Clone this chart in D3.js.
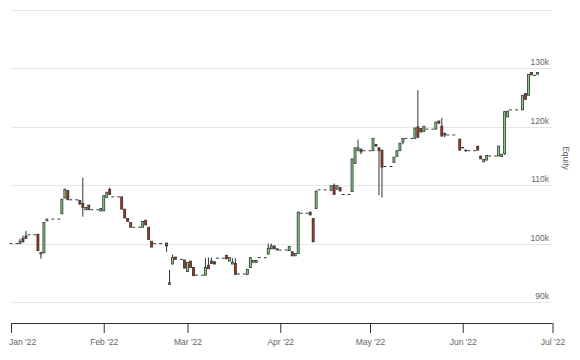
<!DOCTYPE html>
<html><head><meta charset="utf-8">
<script src="https://cdn.jsdelivr.net/npm/d3@7"></script>
<style>body{margin:0;background:#fff}svg{display:block}</style>
</head><body><svg id="chart" width="580" height="360"></svg>
<script>
// Daily equity candles (thousands), one entry per calendar day from startDate
const startDate = "2022-01-01";
const opens = [
 100.0,100.0,100.0,100.0,100.9,101.3,101.5,
 101.5,101.5,101.6,98.2,98.4,103.9,104.2,
 104.2,104.2,104.2,105.1,107.8,109.1,107.5,
 107.5,107.5,107.4,106.9,105.8,106.6,105.8,
 105.8,105.8,105.6,105.6,107.9,109.3,108.0,
 108.0,108.0,108.0,105.9,104.3,103.6,102.8,
 102.8,102.8,102.8,104.0,102.8,100.4,100.0,
 100.0,100.0,100.0,100.1,93.0,96.5,97.7,
 97.3,97.3,97.2,95.2,97.0,95.9,94.6,
 94.6,94.6,94.6,96.3,97.0,96.9,97.5,
 97.5,97.5,98.0,97.0,96.5,96.6,94.8,
 94.8,94.8,94.7,95.9,96.8,96.8,97.6,
 97.6,97.6,98.2,99.1,99.6,99.1,98.9,
 98.9,98.9,98.8,98.6,97.9,98.3,105.2,
 105.2,105.2,105.4,104.3,106.0,109.2,109.2,
 109.2,109.2,109.1,110.0,109.3,109.6,108.4,
 108.4,108.4,108.9,113.7,115.9,116.2,115.9,
 115.9,115.9,115.9,117.0,116.4,116.0,113.2,
 113.2,113.2,113.9,114.9,115.9,117.4,118.0,
 118.0,118.0,118.0,120.0,119.7,119.2,119.6,
 119.6,119.6,119.6,121.0,120.1,118.9,118.6,
 118.6,118.6,118.6,117.9,116.5,116.0,115.9,
 115.9,115.9,116.7,115.0,114.0,114.3,115.0,
 115.0,115.0,115.0,114.9,115.4,121.7,122.9,
 122.9,122.9,122.9,122.9,125.7,125.4,129.3,
 128.8,129.0];
const highs = [
 100.0,100.0,100.0,100.8,101.4,102.2,101.5,
 101.5,101.5,101.6,98.6,103.6,104.2,104.2,
 104.2,104.2,104.2,107.6,109.4,109.1,107.5,
 107.5,107.5,107.5,111.3,106.2,106.6,105.8,
 105.8,105.8,106.0,108.2,108.8,109.6,108.0,
 108.0,108.0,108.0,105.9,104.3,103.6,102.8,
 102.8,102.8,103.8,104.0,102.8,100.4,100.0,
 100.0,100.0,100.0,100.1,95.5,98.1,97.7,
 97.3,97.3,97.2,96.8,97.0,95.9,94.6,
 94.6,94.6,97.5,97.6,97.6,96.9,97.5,
 97.5,97.5,98.0,97.6,97.5,97.5,94.8,
 94.8,94.8,95.6,97.6,97.1,97.1,97.6,
 97.6,97.6,100.0,100.0,99.6,99.1,98.9,
 98.9,98.9,99.5,98.6,98.3,105.4,105.2,
 105.2,105.2,105.4,104.3,109.0,109.2,109.2,
 109.2,109.2,109.9,110.3,109.9,109.6,108.4,
 108.4,108.4,114.5,116.4,117.8,116.2,115.9,
 115.9,115.9,118.0,117.0,116.4,116.0,113.2,
 113.2,113.2,114.8,115.9,117.2,118.0,118.0,
 118.0,118.0,119.8,126.3,119.7,120.1,119.6,
 119.6,119.6,120.8,121.0,121.5,118.9,118.6,
 118.6,118.6,118.6,117.9,116.5,116.1,115.9,
 115.9,115.9,116.7,115.0,114.4,115.1,115.0,
 115.0,115.0,116.7,115.3,122.6,122.7,122.9,
 122.9,122.9,122.9,125.4,125.7,129.0,129.3,
 128.8,129.3];
const lows = [
 100.0,100.0,100.0,99.9,100.2,100.8,101.5,
 101.5,101.5,98.7,97.4,98.4,103.9,104.2,
 104.2,104.2,104.2,105.1,107.8,107.5,107.5,
 107.5,107.5,106.6,104.6,105.8,105.8,105.8,
 105.8,105.8,105.6,105.6,107.9,108.4,108.0,
 108.0,108.0,105.9,104.4,103.8,102.8,102.8,
 102.8,102.8,102.8,103.2,100.7,99.4,100.0,
 100.0,100.0,100.0,98.6,93.0,96.5,97.3,
 97.3,97.3,95.8,95.2,95.9,94.5,94.6,
 94.6,94.6,94.6,95.7,96.6,96.5,97.5,
 97.5,97.5,97.4,97.0,96.5,94.7,94.8,
 94.8,94.8,94.7,95.9,96.8,96.8,97.6,
 97.6,97.6,98.2,99.1,99.1,98.9,98.9,
 98.9,98.9,98.8,97.9,97.9,98.3,105.2,
 105.2,105.2,104.9,100.3,106.0,109.2,109.2,
 109.2,109.2,109.1,108.4,109.3,109.0,108.4,
 108.4,108.4,108.9,113.7,115.9,115.3,115.9,
 115.9,115.9,115.9,116.7,108.3,107.9,113.2,
 113.2,113.2,113.9,114.9,115.9,117.0,118.0,
 118.0,118.0,118.0,118.2,119.1,119.2,119.6,
 119.6,119.6,119.6,120.6,118.4,118.2,118.6,
 118.6,118.6,118.6,116.0,116.3,115.7,115.9,
 115.9,115.9,116.0,114.5,114.0,114.3,115.0,
 115.0,115.0,115.0,114.9,115.2,121.7,122.9,
 122.9,122.9,122.9,122.9,124.7,125.4,128.9,
 128.8,129.0];
const closes = [
 100.0,100.0,100.0,100.4,100.3,100.9,101.5,
 101.5,101.5,98.8,98.5,103.6,104.2,104.2,
 104.2,104.2,104.2,107.6,109.3,107.5,107.5,
 107.5,107.5,106.8,106.2,106.2,105.8,105.8,
 105.8,105.8,106.0,108.2,108.8,108.4,108.0,
 108.0,108.0,105.9,104.4,103.8,102.8,102.8,
 102.8,102.8,103.8,103.2,100.7,99.4,100.0,
 100.0,100.0,100.0,99.6,93.3,97.6,97.3,
 97.3,97.3,95.8,96.8,95.9,94.5,94.6,
 94.6,94.6,95.9,95.7,96.6,96.5,97.5,
 97.5,97.5,97.4,97.6,96.8,94.7,94.8,
 94.8,94.8,95.6,97.6,97.1,97.1,97.6,
 97.6,97.6,99.2,99.6,99.1,98.9,98.9,
 98.9,98.9,99.5,97.9,98.3,105.4,105.2,
 105.2,105.2,104.9,100.3,109.0,109.2,109.2,
 109.2,109.2,109.9,108.4,109.9,109.0,108.4,
 108.4,108.4,114.5,116.4,116.4,115.7,115.9,
 115.9,115.9,118.0,116.7,115.9,113.1,113.2,
 113.2,113.2,114.8,115.9,117.2,118.0,118.0,
 118.0,118.0,119.8,118.2,119.1,120.1,119.6,
 119.6,119.6,120.8,120.6,118.4,118.6,118.6,
 118.6,118.6,118.6,116.0,116.4,115.9,115.9,
 115.9,115.9,116.0,114.5,114.4,115.1,115.0,
 115.0,115.0,116.7,115.3,122.6,122.7,122.9,
 122.9,122.9,122.9,125.4,124.7,129.0,128.9,
 128.8,129.3];
// day indices where the reference shows no mark at all
const emptyDays = [1,7,13,15,21,28,35,42,49,51,56,63,70,77,84,91,98,104,106,112,119,126,133,140,147,149,154,161,168,170];

const xDomain = ["2022-01-01", "2022-07-01"];
const xTickDates = ["2022-01-01","2022-02-01","2022-03-01","2022-04-01","2022-05-01","2022-06-01","2022-07-01"];
const xTickLabels = ["Jan '22","Feb '22","Mar '22","Apr '22","May '22","Jun '22","Jul '22"];
const yDomain = [90, 140];
const yTicks = [90, 100, 110, 120, 130, 140];
const yTickLabels = ["90k", "100k", "110k", "120k", "130k", ""];
const yTitle = "Equity";

const parse = d3.utcParse("%Y-%m-%d");
const t0 = parse(startDate);
const emptySet = new Set(emptyDays);
const data = opens.map((o, i) => ({
  i, date: d3.utcDay.offset(t0, i), open: o, high: highs[i], low: lows[i], close: closes[i]
})).filter(d => !emptySet.has(d.i));

const svg = d3.select("#chart");
const font = "'Liberation Sans', Arial, sans-serif";
const plotL = 11, plotR = 552.5, plotT = 10, plotB = 302;

const x = d3.scaleUtc().domain(xDomain.map(parse)).range([plotL, plotR]);
const y = d3.scaleLinear().domain(yDomain).range([plotB, plotT]);

// gridlines
svg.append("g").selectAll("line").data(yTicks).join("line")
  .attr("x1", plotL).attr("x2", plotR)
  .attr("y1", d => Math.round(y(d)) + 0.5).attr("y2", d => Math.round(y(d)) + 0.5)
  .attr("stroke", "#e6e6e6").attr("stroke-width", 1);

// y labels
svg.append("g").selectAll("text").data(yTicks).join("text")
  .attr("x", 549).attr("y", d => Math.round(y(d)) - 3)
  .attr("text-anchor", "end").attr("font-family", font).attr("font-size", 8.5)
  .attr("fill", "#666").text((d, i) => yTickLabels[i]);

svg.append("text")
  .attr("transform", "translate(563,158) rotate(90)")
  .attr("text-anchor", "middle").attr("font-family", font).attr("font-size", 8.5)
  .attr("fill", "#666").text(yTitle);

// x axis
const axisY = 323;
const xAxis = d3.axisBottom(x).tickValues(xTickDates.map(parse))
  .tickSize(10).tickSizeOuter(0).tickFormat((d, i) => xTickLabels[i]);
const gx = svg.append("g").attr("transform", `translate(0,${axisY})`).call(xAxis);
gx.select(".domain").attr("stroke", "#333").attr("d", `M${plotL},0.5H${plotR}`);
gx.selectAll(".tick line").attr("stroke", "#333");
gx.selectAll(".tick text").attr("font-family", font).attr("font-size", 8.5)
  .attr("fill", "#666").attr("y", 16);
gx.selectAll(".tick text").each(function() {
  const bb = this.getBBox();
  const tx = +d3.select(this.parentNode).attr("transform").match(/translate\(([-\d.]+)/)[1];
  if (tx + bb.x < 9) d3.select(this).attr("text-anchor", "start").attr("x", 9 - tx);
});

// candles
const bw = 2.0;
const ink = "#2b3838";
const g = svg.append("g");
g.selectAll("line.wick").data(data.filter(d => d.high > d.low)).join("line")
  .attr("class", "wick")
  .attr("x1", d => x(d.date)).attr("x2", d => x(d.date))
  .attr("y1", d => y(d.high)).attr("y2", d => y(d.low))
  .attr("stroke", ink).attr("stroke-width", 1);
const bodies = data.filter(d => d.open !== d.close);
const flats = data.filter(d => d.open === d.close);
g.selectAll("rect").data(bodies).join("rect")
  .attr("x", d => x(d.date) - bw / 2).attr("width", bw)
  .attr("y", d => y(Math.max(d.open, d.close)))
  .attr("height", d => Math.abs(y(d.open) - y(d.close)))
  .attr("fill", d => d.close > d.open ? "#8fd07a" : "#c4290e")
  .attr("stroke", ink).attr("stroke-width", 0.8);
g.selectAll("line.flat").data(flats).join("line")
  .attr("class", "flat")
  .attr("x1", d => x(d.date) - bw / 2 - 0.4).attr("x2", d => x(d.date) + bw / 2 + 0.4)
  .attr("y1", d => y(d.close)).attr("y2", d => y(d.close))
  .attr("stroke", ink).attr("stroke-width", 1);
</script></body></html>
